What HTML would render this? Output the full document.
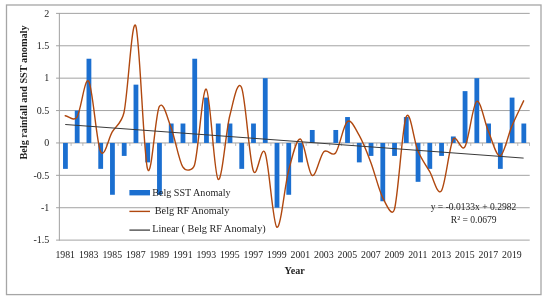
<!DOCTYPE html>
<html><head><meta charset="utf-8"><title>Belg rainfall and SST anomaly</title>
<style>html,body{margin:0;padding:0;background:#fff}svg{display:block}text{font-family:"Liberation Serif", serif;fill:#1e1e1e}</style></head><body>
<svg width="550" height="304" viewBox="0 0 550 304">
<rect x="0" y="0" width="550" height="304" fill="#fff"/>
<rect x="6.5" y="5.0" width="534.5" height="289.6" fill="none" stroke="#a6a6a6" stroke-width="1.3"/>
<line x1="56.05" y1="13.39" x2="529.71" y2="13.39" stroke="#929292" stroke-width="0.85"/>
<line x1="56.05" y1="45.78" x2="529.71" y2="45.78" stroke="#929292" stroke-width="0.85"/>
<line x1="56.05" y1="78.17" x2="529.71" y2="78.17" stroke="#929292" stroke-width="0.85"/>
<line x1="56.05" y1="110.56" x2="529.71" y2="110.56" stroke="#929292" stroke-width="0.85"/>
<line x1="56.05" y1="142.95" x2="529.71" y2="142.95" stroke="#929292" stroke-width="0.85"/>
<line x1="56.05" y1="175.34" x2="529.71" y2="175.34" stroke="#929292" stroke-width="0.85"/>
<line x1="56.05" y1="207.73" x2="529.71" y2="207.73" stroke="#929292" stroke-width="0.85"/>
<line x1="56.05" y1="240.12" x2="529.71" y2="240.12" stroke="#929292" stroke-width="0.85"/>
<line x1="59.35" y1="12.99" x2="59.35" y2="240.62" stroke="#a0a0a0" stroke-width="1"/>
<line x1="71.10" y1="142.95" x2="71.10" y2="145.95" stroke="#a8a8a8" stroke-width="0.8"/>
<line x1="82.86" y1="142.95" x2="82.86" y2="145.95" stroke="#a8a8a8" stroke-width="0.8"/>
<line x1="94.61" y1="142.95" x2="94.61" y2="145.95" stroke="#a8a8a8" stroke-width="0.8"/>
<line x1="106.37" y1="142.95" x2="106.37" y2="145.95" stroke="#a8a8a8" stroke-width="0.8"/>
<line x1="118.12" y1="142.95" x2="118.12" y2="145.95" stroke="#a8a8a8" stroke-width="0.8"/>
<line x1="129.87" y1="142.95" x2="129.87" y2="145.95" stroke="#a8a8a8" stroke-width="0.8"/>
<line x1="141.63" y1="142.95" x2="141.63" y2="145.95" stroke="#a8a8a8" stroke-width="0.8"/>
<line x1="153.38" y1="142.95" x2="153.38" y2="145.95" stroke="#a8a8a8" stroke-width="0.8"/>
<line x1="165.14" y1="142.95" x2="165.14" y2="145.95" stroke="#a8a8a8" stroke-width="0.8"/>
<line x1="176.89" y1="142.95" x2="176.89" y2="145.95" stroke="#a8a8a8" stroke-width="0.8"/>
<line x1="188.64" y1="142.95" x2="188.64" y2="145.95" stroke="#a8a8a8" stroke-width="0.8"/>
<line x1="200.40" y1="142.95" x2="200.40" y2="145.95" stroke="#a8a8a8" stroke-width="0.8"/>
<line x1="212.15" y1="142.95" x2="212.15" y2="145.95" stroke="#a8a8a8" stroke-width="0.8"/>
<line x1="223.91" y1="142.95" x2="223.91" y2="145.95" stroke="#a8a8a8" stroke-width="0.8"/>
<line x1="235.66" y1="142.95" x2="235.66" y2="145.95" stroke="#a8a8a8" stroke-width="0.8"/>
<line x1="247.41" y1="142.95" x2="247.41" y2="145.95" stroke="#a8a8a8" stroke-width="0.8"/>
<line x1="259.17" y1="142.95" x2="259.17" y2="145.95" stroke="#a8a8a8" stroke-width="0.8"/>
<line x1="270.92" y1="142.95" x2="270.92" y2="145.95" stroke="#a8a8a8" stroke-width="0.8"/>
<line x1="282.68" y1="142.95" x2="282.68" y2="145.95" stroke="#a8a8a8" stroke-width="0.8"/>
<line x1="294.43" y1="142.95" x2="294.43" y2="145.95" stroke="#a8a8a8" stroke-width="0.8"/>
<line x1="306.18" y1="142.95" x2="306.18" y2="145.95" stroke="#a8a8a8" stroke-width="0.8"/>
<line x1="317.94" y1="142.95" x2="317.94" y2="145.95" stroke="#a8a8a8" stroke-width="0.8"/>
<line x1="329.69" y1="142.95" x2="329.69" y2="145.95" stroke="#a8a8a8" stroke-width="0.8"/>
<line x1="341.45" y1="142.95" x2="341.45" y2="145.95" stroke="#a8a8a8" stroke-width="0.8"/>
<line x1="353.20" y1="142.95" x2="353.20" y2="145.95" stroke="#a8a8a8" stroke-width="0.8"/>
<line x1="364.95" y1="142.95" x2="364.95" y2="145.95" stroke="#a8a8a8" stroke-width="0.8"/>
<line x1="376.71" y1="142.95" x2="376.71" y2="145.95" stroke="#a8a8a8" stroke-width="0.8"/>
<line x1="388.46" y1="142.95" x2="388.46" y2="145.95" stroke="#a8a8a8" stroke-width="0.8"/>
<line x1="400.22" y1="142.95" x2="400.22" y2="145.95" stroke="#a8a8a8" stroke-width="0.8"/>
<line x1="411.97" y1="142.95" x2="411.97" y2="145.95" stroke="#a8a8a8" stroke-width="0.8"/>
<line x1="423.72" y1="142.95" x2="423.72" y2="145.95" stroke="#a8a8a8" stroke-width="0.8"/>
<line x1="435.48" y1="142.95" x2="435.48" y2="145.95" stroke="#a8a8a8" stroke-width="0.8"/>
<line x1="447.23" y1="142.95" x2="447.23" y2="145.95" stroke="#a8a8a8" stroke-width="0.8"/>
<line x1="458.99" y1="142.95" x2="458.99" y2="145.95" stroke="#a8a8a8" stroke-width="0.8"/>
<line x1="470.74" y1="142.95" x2="470.74" y2="145.95" stroke="#a8a8a8" stroke-width="0.8"/>
<line x1="482.49" y1="142.95" x2="482.49" y2="145.95" stroke="#a8a8a8" stroke-width="0.8"/>
<line x1="494.25" y1="142.95" x2="494.25" y2="145.95" stroke="#a8a8a8" stroke-width="0.8"/>
<line x1="506.00" y1="142.95" x2="506.00" y2="145.95" stroke="#a8a8a8" stroke-width="0.8"/>
<line x1="517.76" y1="142.95" x2="517.76" y2="145.95" stroke="#a8a8a8" stroke-width="0.8"/>
<line x1="529.51" y1="142.95" x2="529.51" y2="145.95" stroke="#a8a8a8" stroke-width="0.8"/>
<rect x="63.03" y="142.95" width="4.80" height="25.91" fill="#1b6fd0"/>
<rect x="74.78" y="110.56" width="4.80" height="32.39" fill="#1b6fd0"/>
<rect x="86.53" y="58.74" width="4.80" height="84.21" fill="#1b6fd0"/>
<rect x="98.29" y="142.95" width="4.80" height="25.91" fill="#1b6fd0"/>
<rect x="110.04" y="142.95" width="4.80" height="51.82" fill="#1b6fd0"/>
<rect x="121.80" y="142.95" width="4.80" height="12.96" fill="#1b6fd0"/>
<rect x="133.55" y="84.65" width="4.80" height="58.30" fill="#1b6fd0"/>
<rect x="145.30" y="142.95" width="4.80" height="19.43" fill="#1b6fd0"/>
<rect x="157.06" y="142.95" width="4.80" height="51.82" fill="#1b6fd0"/>
<rect x="168.81" y="123.52" width="4.80" height="19.43" fill="#1b6fd0"/>
<rect x="180.57" y="123.52" width="4.80" height="19.43" fill="#1b6fd0"/>
<rect x="192.32" y="58.74" width="4.80" height="84.21" fill="#1b6fd0"/>
<rect x="204.07" y="97.60" width="4.80" height="45.35" fill="#1b6fd0"/>
<rect x="215.83" y="123.52" width="4.80" height="19.43" fill="#1b6fd0"/>
<rect x="227.58" y="123.52" width="4.80" height="19.43" fill="#1b6fd0"/>
<rect x="239.34" y="142.95" width="4.80" height="25.91" fill="#1b6fd0"/>
<rect x="251.09" y="123.52" width="4.80" height="19.43" fill="#1b6fd0"/>
<rect x="262.85" y="78.17" width="4.80" height="64.78" fill="#1b6fd0"/>
<rect x="274.60" y="142.95" width="4.80" height="64.78" fill="#1b6fd0"/>
<rect x="286.35" y="142.95" width="4.80" height="51.82" fill="#1b6fd0"/>
<rect x="298.11" y="142.95" width="4.80" height="19.43" fill="#1b6fd0"/>
<rect x="309.86" y="129.99" width="4.80" height="12.96" fill="#1b6fd0"/>
<rect x="333.37" y="129.99" width="4.80" height="12.96" fill="#1b6fd0"/>
<rect x="345.12" y="117.04" width="4.80" height="25.91" fill="#1b6fd0"/>
<rect x="356.88" y="142.95" width="4.80" height="19.43" fill="#1b6fd0"/>
<rect x="368.63" y="142.95" width="4.80" height="12.96" fill="#1b6fd0"/>
<rect x="380.39" y="142.95" width="4.80" height="58.30" fill="#1b6fd0"/>
<rect x="392.14" y="142.95" width="4.80" height="12.96" fill="#1b6fd0"/>
<rect x="403.89" y="117.04" width="4.80" height="25.91" fill="#1b6fd0"/>
<rect x="415.65" y="142.95" width="4.80" height="38.87" fill="#1b6fd0"/>
<rect x="427.40" y="142.95" width="4.80" height="25.91" fill="#1b6fd0"/>
<rect x="439.16" y="142.95" width="4.80" height="12.96" fill="#1b6fd0"/>
<rect x="450.91" y="136.47" width="4.80" height="6.48" fill="#1b6fd0"/>
<rect x="462.66" y="91.13" width="4.80" height="51.82" fill="#1b6fd0"/>
<rect x="474.42" y="78.17" width="4.80" height="64.78" fill="#1b6fd0"/>
<rect x="486.17" y="123.52" width="4.80" height="19.43" fill="#1b6fd0"/>
<rect x="497.93" y="142.95" width="4.80" height="25.91" fill="#1b6fd0"/>
<rect x="509.68" y="97.60" width="4.80" height="45.35" fill="#1b6fd0"/>
<rect x="521.43" y="123.52" width="4.80" height="19.43" fill="#1b6fd0"/>
<path d="M65.23,115.74 C69.14,116.17 73.64,121.92 76.98,117.04 C80.90,111.32 84.82,75.69 88.73,81.41 C92.65,87.13 96.57,142.95 100.49,151.37 C104.41,159.79 108.33,138.42 112.24,131.94 C116.16,125.46 121.54,123.59 124.00,112.50 C127.91,94.80 131.83,16.31 135.75,25.70 C139.67,35.09 143.59,155.37 147.50,168.86 C151.42,182.36 155.34,113.58 159.26,106.67 C163.18,99.76 167.09,117.36 171.01,127.40 C174.93,137.44 178.85,160.66 182.77,166.92 C185.93,171.97 192.80,170.68 194.52,164.98 C198.44,152.02 202.36,86.81 206.27,89.18 C210.19,91.56 214.11,174.80 218.03,179.23 C221.95,183.65 225.86,131.02 229.78,115.74 C233.58,100.95 237.62,78.39 241.54,87.56 C245.45,96.74 249.37,159.95 253.29,170.81 C256.96,180.97 261.13,143.27 265.05,152.67 C268.96,162.06 272.88,224.14 276.80,227.16 C280.72,230.19 284.63,185.49 288.55,170.81 C292.47,156.12 296.39,138.31 300.31,139.06 C304.23,139.82 308.14,173.23 312.06,175.34 C315.98,177.45 319.90,155.42 323.81,151.70 C327.73,147.97 331.93,157.65 335.57,152.99 C339.49,147.97 343.41,124.54 347.32,121.57 C351.24,118.60 355.16,128.37 359.08,135.18 C363.00,141.98 366.91,152.02 370.83,162.38 C374.75,172.75 378.67,189.48 382.59,197.37 C386.37,204.99 391.95,217.84 394.34,209.67 C398.26,196.29 402.18,126.86 406.09,117.04 C410.01,107.21 413.93,141.65 417.85,150.72 C421.77,159.79 425.68,164.76 429.60,171.45 C433.52,178.15 437.44,196.23 441.36,190.89 C445.27,185.54 449.19,146.73 453.11,139.39 C456.38,133.25 461.20,152.75 464.86,146.84 C468.78,140.52 472.70,104.08 476.62,101.49 C480.54,98.90 484.45,122.22 488.37,131.29 C492.29,140.36 496.21,156.77 500.12,155.91 C504.04,155.04 507.96,135.28 511.88,126.11 C515.80,116.93 519.71,109.26 523.63,100.84" fill="none" stroke="#b0480f" stroke-width="1.4" stroke-linejoin="round" stroke-linecap="round"/>
<line x1="65.23" y1="124.49" x2="523.63" y2="158.10" stroke="#3a3a3a" stroke-width="1"/>
<text x="49.3" y="16.59" font-size="10" text-anchor="end">2</text>
<text x="49.3" y="48.98" font-size="10" text-anchor="end">1.5</text>
<text x="49.3" y="81.37" font-size="10" text-anchor="end">1</text>
<text x="49.3" y="113.76" font-size="10" text-anchor="end">0.5</text>
<text x="49.3" y="146.15" font-size="10" text-anchor="end">0</text>
<text x="49.3" y="178.54" font-size="10" text-anchor="end">-0.5</text>
<text x="49.3" y="210.93" font-size="10" text-anchor="end">-1</text>
<text x="49.3" y="243.32" font-size="10" text-anchor="end">-1.5</text>
<text x="65.23" y="257.6" font-size="9.8" text-anchor="middle">1981</text>
<text x="88.73" y="257.6" font-size="9.8" text-anchor="middle">1983</text>
<text x="112.24" y="257.6" font-size="9.8" text-anchor="middle">1985</text>
<text x="135.75" y="257.6" font-size="9.8" text-anchor="middle">1987</text>
<text x="159.26" y="257.6" font-size="9.8" text-anchor="middle">1989</text>
<text x="182.77" y="257.6" font-size="9.8" text-anchor="middle">1991</text>
<text x="206.27" y="257.6" font-size="9.8" text-anchor="middle">1993</text>
<text x="229.78" y="257.6" font-size="9.8" text-anchor="middle">1995</text>
<text x="253.29" y="257.6" font-size="9.8" text-anchor="middle">1997</text>
<text x="276.80" y="257.6" font-size="9.8" text-anchor="middle">1999</text>
<text x="300.31" y="257.6" font-size="9.8" text-anchor="middle">2001</text>
<text x="323.81" y="257.6" font-size="9.8" text-anchor="middle">2003</text>
<text x="347.32" y="257.6" font-size="9.8" text-anchor="middle">2005</text>
<text x="370.83" y="257.6" font-size="9.8" text-anchor="middle">2007</text>
<text x="394.34" y="257.6" font-size="9.8" text-anchor="middle">2009</text>
<text x="417.85" y="257.6" font-size="9.8" text-anchor="middle">2011</text>
<text x="441.36" y="257.6" font-size="9.8" text-anchor="middle">2013</text>
<text x="464.86" y="257.6" font-size="9.8" text-anchor="middle">2015</text>
<text x="488.37" y="257.6" font-size="9.8" text-anchor="middle">2017</text>
<text x="511.88" y="257.6" font-size="9.8" text-anchor="middle">2019</text>
<text x="294.7" y="274" font-size="10.3" font-weight="bold" text-anchor="middle" fill="#1a1a1a" textLength="20.2" lengthAdjust="spacingAndGlyphs">Year</text>
<text transform="translate(26.5,92.5) rotate(-90)" font-size="10" font-weight="bold" text-anchor="middle" fill="#1a1a1a" textLength="134.2" lengthAdjust="spacingAndGlyphs">Belg rainfall and SST anomaly</text>
<rect x="129.4" y="190" width="20.6" height="5.4" fill="#1b6fd0"/>
<text x="152.2" y="195.6" font-size="10.2" textLength="78.5" lengthAdjust="spacingAndGlyphs">Belg SST Anomaly</text>
<line x1="129.4" y1="211.4" x2="150" y2="211.4" stroke="#b0480f" stroke-width="1.4"/>
<text x="154.8" y="214" font-size="10.2" textLength="74.5" lengthAdjust="spacingAndGlyphs">Belg RF Anomaly</text>
<line x1="129.4" y1="230.1" x2="150" y2="230.1" stroke="#3a3a3a" stroke-width="1.25"/>
<text x="152.2" y="232.4" font-size="10.2" textLength="113.5" lengthAdjust="spacingAndGlyphs">Linear ( Belg RF Anomaly)</text>
<text x="473.5" y="210.4" font-size="10" text-anchor="middle" textLength="85.6" lengthAdjust="spacingAndGlyphs">y = -0.0133x + 0.2982</text>
<text x="473.7" y="223" font-size="10" text-anchor="middle" textLength="45.8" lengthAdjust="spacingAndGlyphs">R² = 0.0679</text>
</svg></body></html>
